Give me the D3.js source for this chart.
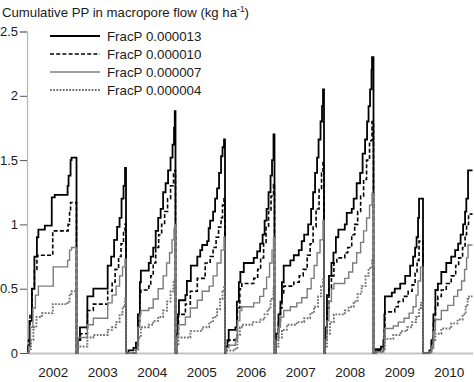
<!DOCTYPE html>
<html><head><meta charset="utf-8">
<script src="https://cdn.jsdelivr.net/npm/d3@7"></script>
<style>
body{margin:0;background:#fff;}
text{font-family:"Liberation Sans",Arial,sans-serif;fill:#1a1a1a;}
</style></head>
<body><svg id="c" width="474" height="382"></svg>
<script>
const years = [2002,2003,2004,2005,2006,2007,2008,2009,2010];
const yTicks = [0,0.5,1,1.5,2,2.5];
const yTickLabels = ["0","0.5","1","1.5","2","2.5"];
const seriesNames = ["FracP 0.000013","FracP 0.000010","FracP 0.000007","FracP 0.000004"];

// each entry: one year's cumulative curve as [fraction of year, kg/ha]
const frac13 = [
 [[0,0],[0.02,0.05],[0.05,0.25],[0.1,0.5],[0.15,0.75],[0.2,0.9],[0.23,0.96],[0.36,0.99],[0.5,1.21],[0.56,1.23],[0.82,1.3],[0.84,1.38],[0.88,1.5],[0.9,1.52]],
 [[0,0],[0.02,0.1],[0.07,0.2],[0.22,0.44],[0.34,0.5],[0.63,0.68],[0.7,0.75],[0.76,0.88],[0.82,0.98],[0.87,1.05],[0.91,1.2],[0.95,1.3],[0.98,1.44]],
 [[0,0],[0.05,0.02],[0.15,0.04],[0.2,0.08],[0.24,0.3],[0.28,0.55],[0.3,0.64],[0.46,0.7],[0.5,0.75],[0.55,0.82],[0.6,0.95],[0.65,1.05],[0.7,1.12],[0.75,1.25],[0.8,1.32],[0.85,1.42],[0.9,1.52],[0.94,1.62],[0.97,1.75],[0.985,1.88]],
 [[0,0],[0.02,0.15],[0.05,0.3],[0.07,0.41],[0.2,0.45],[0.23,0.56],[0.31,0.68],[0.44,0.75],[0.5,0.8],[0.54,0.84],[0.64,0.87],[0.67,0.97],[0.7,1.03],[0.76,1.1],[0.8,1.2],[0.84,1.28],[0.88,1.4],[0.92,1.53],[0.95,1.6],[0.98,1.66]],
 [[0,0],[0.02,0.05],[0.05,0.1],[0.075,0.18],[0.21,0.2],[0.24,0.4],[0.28,0.55],[0.31,0.63],[0.38,0.7],[0.58,0.74],[0.65,0.79],[0.71,0.85],[0.76,0.92],[0.8,1.03],[0.84,1.12],[0.88,1.25],[0.92,1.38],[0.95,1.5],[0.98,1.7]],
 [[0,0],[0.03,0.15],[0.08,0.3],[0.12,0.4],[0.15,0.55],[0.186,0.68],[0.32,0.72],[0.39,0.76],[0.49,0.8],[0.55,0.87],[0.6,0.92],[0.68,1.0],[0.74,1.12],[0.78,1.25],[0.82,1.4],[0.86,1.52],[0.89,1.66],[0.93,1.8],[0.96,1.92],[0.98,2.05]],
 [[0,0],[0.02,0.2],[0.06,0.45],[0.1,0.6],[0.15,0.7],[0.19,0.78],[0.24,0.9],[0.29,0.96],[0.42,1.0],[0.46,1.09],[0.56,1.12],[0.6,1.2],[0.66,1.32],[0.73,1.4],[0.78,1.55],[0.83,1.66],[0.87,1.8],[0.9,1.92],[0.93,2.05],[0.96,2.2],[0.97,2.3]],
 [[0,0],[0.05,0.03],[0.15,0.05],[0.2,0.1],[0.22,0.3],[0.23,0.44],[0.37,0.47],[0.43,0.5],[0.54,0.54],[0.64,0.6],[0.74,0.68],[0.8,0.75],[0.84,0.82],[0.87,0.9],[0.9,1.05],[0.92,1.2]],
 [[0,0],[0.13,0.02],[0.17,0.1],[0.21,0.3],[0.25,0.49],[0.3,0.54],[0.37,0.63],[0.47,0.7],[0.57,0.75],[0.65,0.8],[0.71,0.85],[0.76,0.92],[0.81,1.0],[0.85,1.1],[0.875,1.2],[0.91,1.42]]
];
const frac10 = [
 [[0,0],[0.03,0.1],[0.06,0.3],[0.1,0.5],[0.15,0.65],[0.2,0.75],[0.22,0.76],[0.52,0.95],[0.83,1.0],[0.86,1.1],[0.88,1.17]],
 [[0,0],[0.03,0.1],[0.08,0.15],[0.22,0.33],[0.34,0.38],[0.63,0.48],[0.72,0.55],[0.78,0.65],[0.85,0.75],[0.9,0.85],[0.95,0.95],[0.98,1.0]],
 [[0,0],[0.2,0.04],[0.24,0.25],[0.28,0.45],[0.3,0.49],[0.46,0.52],[0.5,0.6],[0.55,0.7],[0.6,0.82],[0.66,0.92],[0.72,1.0],[0.78,1.1],[0.84,1.2],[0.9,1.3],[0.96,1.4],[0.985,1.42]],
 [[0,0],[0.02,0.15],[0.06,0.3],[0.2,0.38],[0.3,0.48],[0.44,0.58],[0.6,0.7],[0.7,0.75],[0.76,0.82],[0.82,0.9],[0.87,0.98],[0.92,1.05],[0.95,1.15],[0.98,1.2]],
 [[0,0],[0.02,0.05],[0.075,0.1],[0.21,0.12],[0.25,0.35],[0.3,0.5],[0.34,0.54],[0.58,0.58],[0.66,0.65],[0.72,0.74],[0.78,0.86],[0.83,0.98],[0.88,1.1],[0.93,1.22],[0.98,1.31]],
 [[0,0],[0.03,0.12],[0.08,0.25],[0.12,0.35],[0.15,0.45],[0.186,0.52],[0.39,0.55],[0.5,0.6],[0.58,0.65],[0.66,0.76],[0.72,0.85],[0.78,0.98],[0.84,1.12],[0.9,1.28],[0.95,1.4],[0.98,1.48]],
 [[0,0],[0.02,0.15],[0.06,0.35],[0.1,0.5],[0.15,0.6],[0.2,0.7],[0.26,0.74],[0.42,0.78],[0.48,0.82],[0.56,0.92],[0.62,1.0],[0.68,1.1],[0.74,1.22],[0.8,1.35],[0.86,1.5],[0.92,1.65],[0.97,1.8]],
 [[0,0],[0.05,0.02],[0.2,0.05],[0.22,0.2],[0.23,0.32],[0.43,0.36],[0.5,0.4],[0.6,0.44],[0.7,0.48],[0.78,0.53],[0.84,0.62],[0.88,0.72],[0.92,0.87]],
 [[0,0],[0.13,0.01],[0.17,0.08],[0.21,0.25],[0.25,0.36],[0.3,0.44],[0.37,0.49],[0.47,0.54],[0.57,0.6],[0.66,0.68],[0.72,0.74],[0.8,0.82],[0.85,0.92],[0.88,1.0],[0.92,1.08]]
];
const frac07 = [
 [[0,0],[0.03,0.05],[0.07,0.2],[0.12,0.35],[0.17,0.45],[0.23,0.52],[0.53,0.67],[0.82,0.72],[0.86,0.8],[0.9,0.82]],
 [[0,0],[0.03,0.12],[0.22,0.22],[0.34,0.27],[0.63,0.39],[0.72,0.45],[0.8,0.52],[0.87,0.6],[0.93,0.67],[0.98,0.73]],
 [[0,0],[0.2,0.03],[0.24,0.2],[0.28,0.3],[0.3,0.33],[0.46,0.35],[0.55,0.42],[0.65,0.5],[0.75,0.6],[0.82,0.7],[0.88,0.78],[0.93,0.88],[0.97,0.97],[0.985,1.0]],
 [[0,0],[0.02,0.12],[0.06,0.22],[0.2,0.28],[0.3,0.35],[0.44,0.41],[0.54,0.48],[0.68,0.52],[0.76,0.6],[0.84,0.7],[0.92,0.8],[0.98,0.9]],
 [[0,0],[0.02,0.04],[0.075,0.06],[0.21,0.1],[0.25,0.25],[0.3,0.33],[0.34,0.36],[0.58,0.39],[0.7,0.44],[0.78,0.5],[0.84,0.59],[0.9,0.7],[0.95,0.8],[0.98,0.9]],
 [[0,0],[0.03,0.1],[0.08,0.2],[0.12,0.28],[0.186,0.33],[0.32,0.36],[0.45,0.39],[0.55,0.43],[0.66,0.5],[0.74,0.58],[0.8,0.68],[0.86,0.78],[0.92,0.88],[0.98,1.03]],
 [[0,0],[0.02,0.1],[0.06,0.25],[0.1,0.4],[0.15,0.5],[0.2,0.54],[0.42,0.58],[0.5,0.63],[0.58,0.7],[0.66,0.78],[0.74,0.86],[0.8,0.95],[0.86,1.05],[0.92,1.15],[0.97,1.24]],
 [[0,0],[0.05,0.01],[0.2,0.03],[0.22,0.12],[0.23,0.19],[0.4,0.21],[0.5,0.24],[0.62,0.27],[0.72,0.31],[0.8,0.36],[0.86,0.45],[0.9,0.56],[0.95,0.67]],
 [[0,0],[0.13,0.01],[0.17,0.05],[0.21,0.17],[0.25,0.26],[0.37,0.33],[0.5,0.37],[0.62,0.44],[0.7,0.49],[0.78,0.56],[0.84,0.65],[0.88,0.74],[0.91,0.84]]
];
const frac04 = [
 [[0,0],[0.04,0.03],[0.08,0.1],[0.13,0.2],[0.19,0.28],[0.3,0.31],[0.52,0.38],[0.82,0.4],[0.86,0.46],[0.9,0.48]],
 [[0,0],[0.03,0.05],[0.22,0.12],[0.34,0.14],[0.63,0.18],[0.72,0.2],[0.8,0.24],[0.87,0.3],[0.93,0.36],[0.98,0.42]],
 [[0,0],[0.2,0.02],[0.25,0.12],[0.3,0.2],[0.46,0.22],[0.55,0.25],[0.65,0.28],[0.75,0.33],[0.83,0.4],[0.9,0.48],[0.96,0.55],[0.985,0.57]],
 [[0,0],[0.02,0.06],[0.06,0.12],[0.3,0.17],[0.54,0.2],[0.68,0.24],[0.76,0.28],[0.84,0.34],[0.9,0.42],[0.95,0.48],[0.98,0.52]],
 [[0,0],[0.02,0.02],[0.21,0.04],[0.25,0.14],[0.3,0.2],[0.34,0.22],[0.55,0.24],[0.72,0.26],[0.8,0.3],[0.86,0.34],[0.92,0.42],[0.98,0.52]],
 [[0,0],[0.03,0.05],[0.08,0.12],[0.15,0.18],[0.25,0.22],[0.45,0.24],[0.6,0.27],[0.72,0.31],[0.8,0.36],[0.88,0.44],[0.94,0.52],[0.98,0.57]],
 [[0,0],[0.02,0.05],[0.06,0.15],[0.12,0.24],[0.2,0.3],[0.42,0.33],[0.5,0.36],[0.6,0.4],[0.68,0.46],[0.76,0.52],[0.84,0.6],[0.9,0.66],[0.97,0.73]],
 [[0,0],[0.05,0.01],[0.2,0.02],[0.23,0.11],[0.4,0.14],[0.55,0.17],[0.68,0.2],[0.78,0.24],[0.86,0.28],[0.92,0.35],[0.96,0.39]],
 [[0,0],[0.13,0.01],[0.17,0.04],[0.21,0.1],[0.25,0.15],[0.37,0.19],[0.57,0.23],[0.7,0.26],[0.8,0.3],[0.86,0.36],[0.9,0.42],[0.93,0.44]]
];

const svg = d3.select("#c");
const x = d3.scaleLinear().domain([2002, 2011]).range([27, 472.5]);
const y = d3.scaleLinear().domain([0, 2.5]).range([353, 31.5]);

// title
const title = svg.append("text").attr("x", 2).attr("y", 16.5).style("font-size", "13.2px");
title.append("tspan").text("Cumulative PP in macropore flow (kg ha");
title.append("tspan").attr("dy", -5).style("font-size", "8.5px").text("-1");
title.append("tspan").attr("dy", 5).text(")");

// y axis
const yAxis = svg.append("g").attr("transform", "translate(27,0)")
  .call(d3.axisLeft(y).tickValues(yTicks).tickSize(7).tickPadding(2)
    .tickFormat((d,i) => yTickLabels[i]));
yAxis.select(".domain").attr("stroke", "#b5b5b5").attr("stroke-width", 1.2);
yAxis.selectAll(".tick line").attr("stroke", "#555").attr("stroke-width", 1);
yAxis.selectAll(".tick text").style("font-size", "13px").attr("fill", "#1a1a1a")
  .style("font-family", "'Liberation Sans',Arial,sans-serif");

// x axis
const xAxis = svg.append("g").attr("transform", "translate(0,353)")
  .call(d3.axisBottom(x).tickValues(years.map(d => d + 0.52)).tickSize(0).tickPadding(14)
    .tickFormat(d => String(Math.floor(d))));
xAxis.select(".domain").attr("stroke", "#c4c4c4").attr("stroke-width", 2);
xAxis.selectAll(".tick text").style("font-size", "13.5px").attr("fill", "#1a1a1a")
  .style("font-family", "'Liberation Sans',Arial,sans-serif");

const series = [
  {name: seriesNames[0], data: frac13, color: "#000", width: 1.8, dash: null},
  {name: seriesNames[1], data: frac10, color: "#000", width: 1.6, dash: "4,2.2"},
  {name: seriesNames[2], data: frac07, color: "#7c7c7c", width: 1.4, dash: null},
  {name: seriesNames[3], data: frac04, color: "#707070", width: 1.9, dash: "1.8,1.4"}
];

const line = d3.line().x(d => x(d[0])).y(d => y(d[1])).curve(d3.curveStepAfter);

series.forEach(s => {
  const pts = [];
  s.data.forEach((yr, i) => {
    yr.forEach(p => pts.push([years[i] + p[0], p[1]]));
  });
  pts.push([2011, pts[pts.length - 1][1]]);
  svg.append("path").attr("d", line(pts)).attr("fill", "none")
    .attr("stroke", s.color).attr("stroke-width", s.width)
    .attr("stroke-dasharray", s.dash).attr("stroke-linejoin", "miter");
});

// legend
const lg = svg.append("g");
series.forEach((s, i) => {
  const yy = 36 + i * 18;
  lg.append("line").attr("x1", 50).attr("x2", 100).attr("y1", yy).attr("y2", yy)
    .attr("stroke", s.color).attr("stroke-width", s.width).attr("stroke-dasharray", s.dash);
  lg.append("text").attr("x", 107).attr("y", yy + 5).style("font-size", "13.3px").text(s.name);
});
</script></body></html>
